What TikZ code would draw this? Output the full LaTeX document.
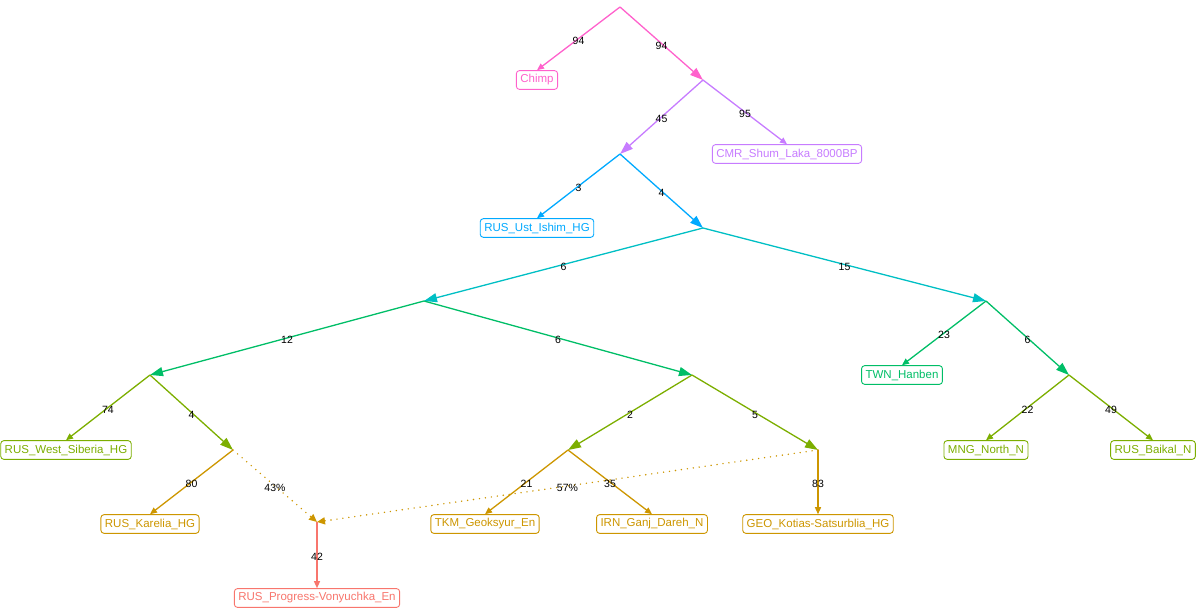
\documentclass[tikz,border=0pt]{standalone}
\usepackage{fontspec}
\setmainfont{Liberation Sans}
\usetikzlibrary{arrows.meta}
\definecolor{cpink}{HTML}{FF61CC}
\definecolor{cpurp}{HTML}{C77CFF}
\definecolor{cblue}{HTML}{00A9FF}
\definecolor{cteal}{HTML}{00BFC4}
\definecolor{cgreen}{HTML}{00BE67}
\definecolor{colive}{HTML}{7CAE00}
\definecolor{cgold}{HTML}{CD9600}
\definecolor{csalm}{HTML}{F8766D}
\begin{document}
\begin{tikzpicture}[x=1pt,y=-1pt,
  leaf/.style={draw=#1,text=#1,fill=white,rounded corners=3pt,line width=0.9pt,inner xsep=4pt,inner ysep=4pt,font=\fontsize{11.5}{12}\selectfont},
  bigarr/.style={draw=#1,line width=1.3pt,-{Triangle[length=13pt,width=9pt]}},
  smarr/.style={draw=#1,line width=1.3pt,-{Triangle[length=7pt,width=6pt]}},
  dotarr/.style={draw=#1,line width=1.6pt,line cap=round,dash pattern=on 0pt off 6pt,-{Triangle[length=8pt,width=7pt]}},
  el/.style={font=\fontsize{10.5}{11}\selectfont,text=black,inner sep=0pt,yshift=-2pt}]
\useasboundingbox (0,0) rectangle (1200,612);
\coordinate (r) at (620,7);
\coordinate (n1) at (703,80);
\coordinate (n2) at (620,154);
\coordinate (n3) at (703,228);
\coordinate (n4) at (424,301);
\coordinate (n5) at (986,301);
\coordinate (n6) at (150,375);
\coordinate (n7) at (692,375);
\coordinate (n8) at (1069,375);
\coordinate (n9) at (233,450);
\coordinate (n10) at (568,450);
\coordinate (n11) at (818,450);
\coordinate (adm) at (317,522);
\node[leaf=cpink] (chimp) at (537,80) {Chimp};
\node[leaf=cpurp] (cmr) at (787,154) {CMR\_Shum\_Laka\_8000BP};
\node[leaf=cblue] (ust) at (537,228) {RUS\_Ust\_Ishim\_HG};
\node[leaf=cgreen] (twn) at (902,375) {TWN\_Hanben};
\node[leaf=colive] (wsib) at (66,450) {RUS\_West\_Siberia\_HG};
\node[leaf=colive] (mng) at (986,450) {MNG\_North\_N};
\node[leaf=colive] (baik) at (1153,450) {RUS\_Baikal\_N};
\node[leaf=cgold] (kar) at (150,524) {RUS\_Karelia\_HG};
\node[leaf=cgold] (tkm) at (485,524) {TKM\_Geoksyur\_En};
\node[leaf=cgold] (irn) at (652,524) {IRN\_Ganj\_Dareh\_N};
\node[leaf=cgold] (geo) at (818,524) {GEO\_Kotias-Satsurblia\_HG};
\node[leaf=csalm] (rpv) at (317,598) {RUS\_Progress-Vonyuchka\_En};

\draw[smarr=cpink] (r) -- node[el]{94} (chimp.north);
\draw[bigarr=cpink] (r) -- node[el]{94} (n1);
\draw[bigarr=cpurp] (n1) -- node[el]{45} (n2);
\draw[smarr=cpurp] (n1) -- node[el]{95} (cmr.north);
\draw[smarr=cblue] (n2) -- node[el]{3} (ust.north);
\draw[bigarr=cblue] (n2) -- node[el]{4} (n3);
\draw[bigarr=cteal] (n3) -- node[el]{6} (n4);
\draw[bigarr=cteal] (n3) -- node[el]{15} (n5);
\draw[bigarr=cgreen] (n4) -- node[el]{12} (n6);
\draw[bigarr=cgreen] (n4) -- node[el]{6} (n7);
\draw[smarr=cgreen] (n5) -- node[el]{23} (twn.north);
\draw[bigarr=cgreen] (n5) -- node[el]{6} (n8);
\draw[smarr=colive] (n6) -- node[el]{74} (wsib.north);
\draw[bigarr=colive] (n6) -- node[el]{4} (n9);
\draw[bigarr=colive] (n7) -- node[el]{2} (n10);
\draw[bigarr=colive] (n7) -- node[el]{5} (n11);
\draw[smarr=colive] (n8) -- node[el]{22} (mng.north);
\draw[smarr=colive] (n8) -- node[el]{49} (baik.north);
\draw[smarr=cgold] (n9) -- node[el]{80} (kar.north);
\draw[dotarr=cgold] (n9) -- node[el]{43\%} (adm);
\draw[smarr=cgold] (n10) -- node[el]{21} (tkm.north);
\draw[smarr=cgold] (n10) -- node[el]{35} (irn.north);
\draw[dotarr=cgold] (n11) -- node[el]{57\%} (adm);
\draw[smarr=cgold] (n11) -- node[el]{83} (geo.north);
\draw[smarr=csalm] (adm) -- node[el]{42} (rpv.north);
\end{tikzpicture}
\end{document}
